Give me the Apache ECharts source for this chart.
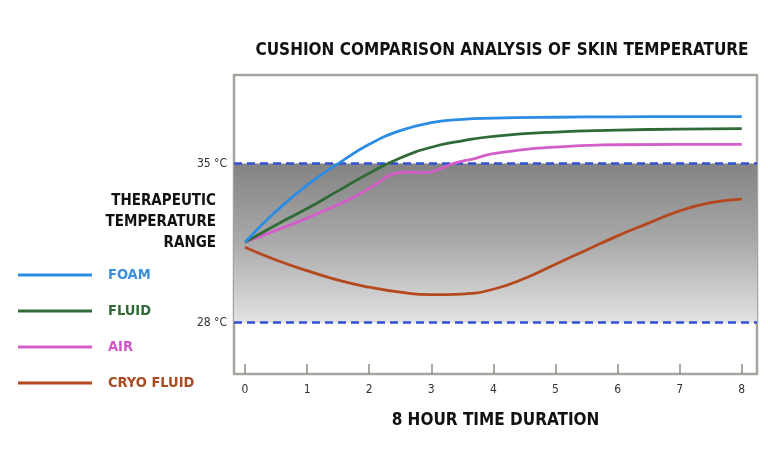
<!DOCTYPE html>
<html>
<head>
<meta charset="utf-8">
<script src="https://cdn.jsdelivr.net/npm/echarts@6/dist/echarts.min.js"></script>
<style>html,body{margin:0;padding:0;background:#fff}#c{width:768px;height:461px}</style>
</head>
<body>
<div id="c"></div>
<script>
const FONT = "'Liberation Sans Narrow','DejaVu Sans Condensed','Roboto Condensed',sans-serif";

const hourTicks = [0, 1, 2, 3, 4, 5, 6, 7, 8];
const rangeTicks = [28, 35];
const rangeHigh = 35;
const rangeLow = 28;

const foamHours = [0, 0.5, 1, 1.5, 2, 2.5, 3, 3.5, 4, 5, 6, 7, 8];
const foamTemps = [31.54, 32.9, 34.05, 35.0, 35.85, 36.45, 36.8, 36.95, 37.0, 37.04, 37.06, 37.07, 37.07];

const fluidHours = [0, 0.5, 1, 1.5, 2, 2.5, 3, 3.5, 4, 5, 6, 7, 8];
const fluidTemps = [31.54, 32.3, 33.02, 33.8, 34.58, 35.25, 35.72, 36.0, 36.2, 36.39, 36.47, 36.52, 36.54];

const airHours = [0, 0.5, 1, 1.5, 1.8, 2.1, 2.4, 2.6, 2.9, 3.15, 3.35, 3.7, 4, 5, 6, 7, 8];
const airTemps = [31.54, 32.06, 32.6, 33.2, 33.6, 34.08, 34.56, 34.63, 34.6, 34.78, 35.0, 35.22, 35.44, 35.73, 35.83, 35.85, 35.85];

const cryoHours = [0, 0.5, 1, 1.5, 2, 2.5, 3, 3.5, 4, 4.5, 5, 5.5, 6, 6.5, 7, 7.5, 8];
const cryoTemps = [31.32, 30.76, 30.29, 29.87, 29.56, 29.34, 29.23, 29.26, 29.47, 29.94, 30.57, 31.2, 31.82, 32.38, 32.92, 33.28, 33.44];

const seriesNames = ['FOAM', 'FLUID', 'AIR', 'CRYO FLUID'];
const lineColors = ['#2a8ce2', '#2f6a37', '#d45ec8', '#b5481d'];
const textColors = ['#3a8fe0', '#2e6a35', '#d055c5', '#a84a22'];

const pairs = (hs, ts) => hs.map((h, i) => [h, ts[i]]);
const allData = [pairs(foamHours, foamTemps), pairs(fluidHours, fluidTemps), pairs(airHours, airTemps), pairs(cryoHours, cryoTemps)];

const chart = echarts.init(document.getElementById('c'), null, {renderer: 'canvas'});

const series = seriesNames.map((n, i) => ({
  name: n,
  type: 'line',
  data: allData[i],
  smooth: 0.5,
  symbol: 'none',
  lineStyle: {color: lineColors[i], width: 2.8},
  itemStyle: {color: lineColors[i]},
  z: 10 - i
}));

series[0].markArea = {
  silent: true,
  itemStyle: {
    color: new echarts.graphic.LinearGradient(0, 0, 0, 1, [
      {offset: 0, color: '#838383'},
      {offset: 0.5, color: '#aaaaaa'},
      {offset: 1, color: '#e2e2e2'}
    ])
  },
  data: [[{yAxis: rangeHigh}, {yAxis: rangeLow}]]
};
series[0].markLine = {
  silent: true,
  symbol: 'none',
  label: {show: false},
  lineStyle: {color: '#3050d4', width: 2.5, type: [8, 5]},
  data: [{yAxis: rangeHigh}, {yAxis: rangeLow}]
};

chart.setOption({
  animation: false,
  backgroundColor: '#ffffff',
  title: {
    text: 'CUSHION COMPARISON ANALYSIS OF SKIN TEMPERATURE',
    left: 497, top: 37, textAlign: 'center',
    textStyle: {fontFamily: FONT, fontWeight: 'bold', fontSize: 17, color: '#111'}
  },
  legend: {
    orient: 'vertical',
    left: 18, top: 266, padding: 0,
    icon: 'rect',
    itemWidth: 74, itemHeight: 3,
    itemGap: 18,
    data: seriesNames.map((n, i) => ({name: n, textStyle: {color: textColors[i]}})),
    textStyle: {fontFamily: FONT, fontWeight: 'bold', fontSize: 14.5, lineHeight: 18, padding: [0, 0, 0, 11]}
  },
  grid: {
    left: 234, right: 11, top: 75, bottom: 87,
    show: true, borderColor: '#a7a39f', borderWidth: 2.5, backgroundColor: 'transparent'
  },
  xAxis: {
    type: 'value', min: -0.177, max: 8.245,
    name: '8 HOUR TIME DURATION', nameLocation: 'middle', nameGap: 38,
    nameTextStyle: {fontFamily: FONT, fontWeight: 'bold', fontSize: 17, color: '#111'},
    axisLine: {show: false},
    splitLine: {show: false},
    axisTick: {show: true, inside: true, length: 10, customValues: hourTicks, lineStyle: {color: '#8e8a86', width: 1.5}},
    axisLabel: {customValues: hourTicks, margin: 10, fontFamily: FONT, fontSize: 12, color: '#333'}
  },
  yAxis: {
    type: 'value', min: 25.74, max: 38.9,
    axisLine: {show: false}, axisTick: {show: false}, splitLine: {show: false},
    axisLabel: {customValues: rangeTicks, formatter: v => v + ' °C', margin: 7, fontFamily: FONT, fontSize: 12, color: '#333'}
  },
  graphic: [{
    type: 'text', x: 216, y: 191,
    style: {
      text: 'THERAPEUTIC\nTEMPERATURE\nRANGE', align: 'right', verticalAlign: 'top', lineHeight: 21,
      font: 'bold 15px ' + FONT, fill: '#111'
    }
  }],
  series: series
});
</script>
</body>
</html>
